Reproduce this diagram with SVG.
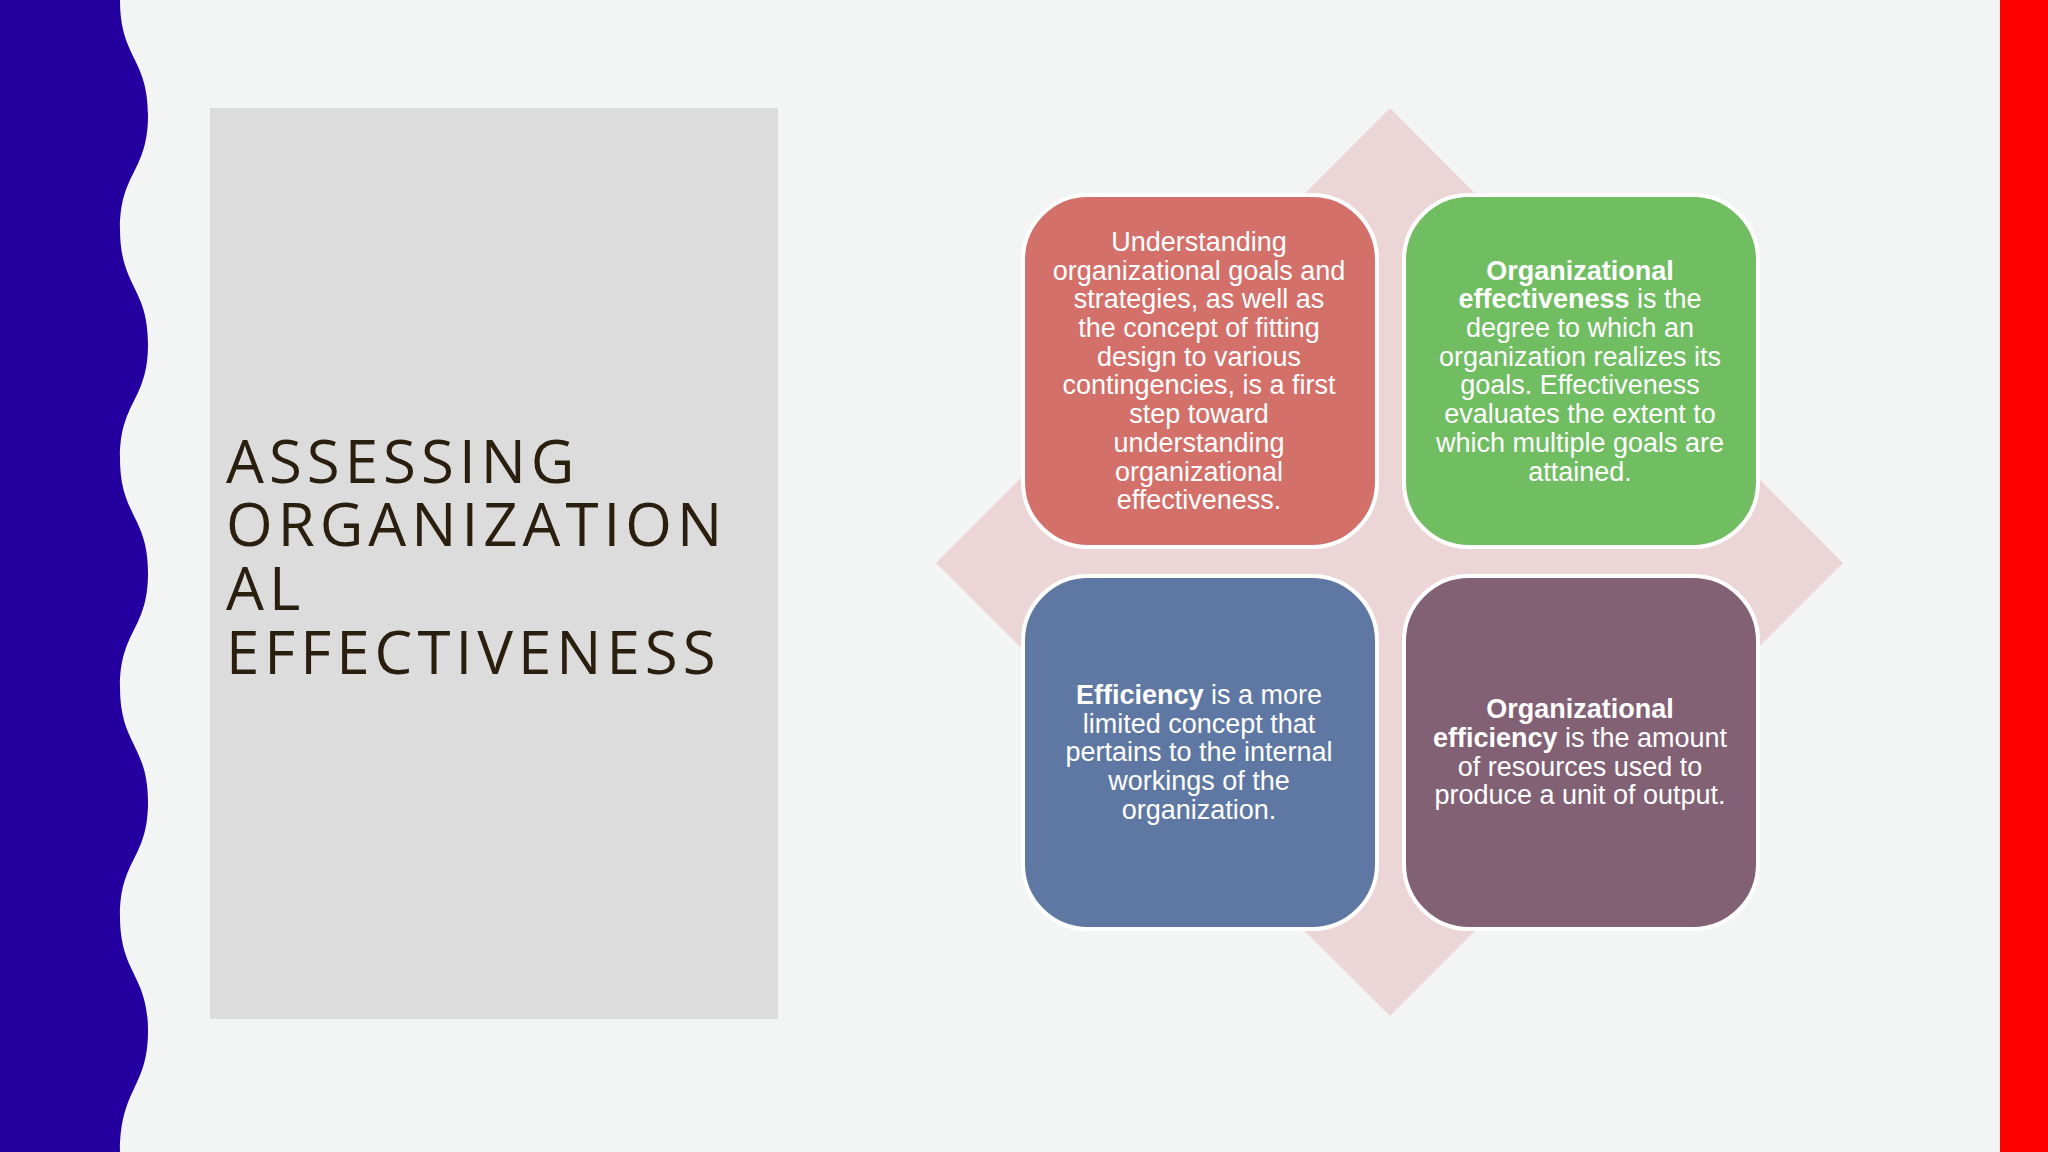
<svg xmlns="http://www.w3.org/2000/svg" width="2048" height="1152" viewBox="0 0 2048 1152">
<style>
.t{font-family:"Liberation Sans",Arial,sans-serif;font-size:27px;fill:#fff;text-anchor:middle}
.b{font-weight:bold}
.box{stroke:#fff;stroke-width:4}
</style>
<rect width="2048" height="1152" fill="#f3f4f4"/>
<path d="M0,0 H120 C120,58 148,58 148,115 C148,172 120,172 120,229 C120,287 148,287 148,344 C148,401 120,401 120,458 C120,516 148,516 148,573 C148,630 120,630 120,687 C120,745 148,745 148,802 C148,859 120,859 120,916 C120,974 148,974 148,1031 C148,1088 120,1088 120,1152 H0 Z" fill="#2400a0"/>
<rect x="2000" y="0" width="48" height="1152" fill="#ff0000"/>
<rect x="210" y="108" width="568" height="911" fill="#dcdcdc"/>
<g font-family="'Open Sans',sans-serif" font-size="60" fill="#2a1e0e" letter-spacing="5">
<text x="226" y="483">ASSESSING</text>
<text x="226" y="546">ORGANIZATION</text>
<text x="226" y="610">AL</text>
<text x="226" y="674">EFFECTIVENESS</text>
</g>
<polygon points="1390,108 1843,563 1390,1016 936,563" fill="#ecd5d7"/>
<g id="n1"><rect class="box" x="1023" y="195" width="354" height="352" rx="65" fill="#d4706a"/>
<text class="t" x="1199" y="251">Understanding</text>
<text class="t" x="1199" y="280">organizational goals and</text>
<text class="t" x="1199" y="308">strategies, as well as</text>
<text class="t" x="1199" y="337">the concept of fitting</text>
<text class="t" x="1199" y="366">design to various</text>
<text class="t" x="1199" y="394">contingencies, is a first</text>
<text class="t" x="1199" y="423">step toward</text>
<text class="t" x="1199" y="452">understanding</text>
<text class="t" x="1199" y="481">organizational</text>
<text class="t" x="1199" y="509">effectiveness.</text></g>
<g id="n2"><rect class="box" x="1404" y="195" width="354" height="352" rx="65" fill="#70bd62"/>
<text class="t b" x="1580" y="280">Organizational</text>
<text class="t" x="1580" y="308"><tspan class="b">effectiveness</tspan> is the</text>
<text class="t" x="1580" y="337">degree to which an</text>
<text class="t" x="1580" y="366">organization realizes its</text>
<text class="t" x="1580" y="394">goals. Effectiveness</text>
<text class="t" x="1580" y="423">evaluates the extent to</text>
<text class="t" x="1580" y="452">which multiple goals are</text>
<text class="t" x="1580" y="481">attained.</text></g>
<g id="n3"><rect class="box" x="1023" y="576" width="354" height="353" rx="65" fill="#5f78a3"/>
<text class="t" x="1199" y="704"><tspan class="b">Efficiency</tspan> is a more</text>
<text class="t" x="1199" y="733">limited concept that</text>
<text class="t" x="1199" y="761">pertains to the internal</text>
<text class="t" x="1199" y="790">workings of the</text>
<text class="t" x="1199" y="819">organization.</text></g>
<g id="n4"><rect class="box" x="1404" y="576" width="354" height="353" rx="65" fill="#826175"/>
<text class="t b" x="1580" y="718">Organizational</text>
<text class="t" x="1580" y="747"><tspan class="b">efficiency</tspan> is the amount</text>
<text class="t" x="1580" y="776">of resources used to</text>
<text class="t" x="1580" y="804">produce a unit of output.</text></g>
<g id="connectors"></g>
</svg>
